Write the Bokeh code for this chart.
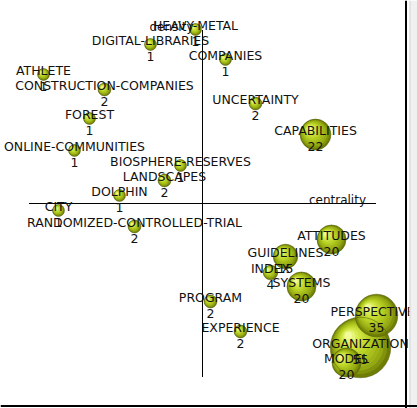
from bokeh.plotting import figure
from bokeh.models import ColumnDataSource, Span, BoxAnnotation
from bokeh.core.properties import value
from bokeh.embed import file_html
from bokeh.resources import INLINE

# ---- data ----
names = ["HEAVY-METAL", "DIGITAL-LIBRARIES", "COMPANIES", "ATHLETE",
         "CONSTRUCTION-COMPANIES", "FOREST", "UNCERTAINTY", "CAPABILITIES",
         "ONLINE-COMMUNITIES", "BIOSPHERE-RESERVES", "LANDSCAPES", "DOLPHIN",
         "CITY", "RANDOMIZED-CONTROLLED-TRIAL", "ATTITUDES", "GUIDELINES",
         "INDEX", "SYSTEMS", "PROGRAM", "EXPERIENCE", "PERSPECTIVES",
         "ORGANIZATION", "MODEL"]
counts = [1, 1, 1, 1, 2, 1, 2, 22, 1, 1, 2, 1, 1, 2, 20, 15, 4, 20, 2, 2, 35, 55, 20]
centrality = [-0.07, -0.52, 0.23, -1.59, -0.98, -1.13, 0.53, 1.13, -1.28, -0.22,
              -0.38, -0.83, -1.44, -0.68, 1.29, 0.83, 0.68, 0.99, 0.08, 0.38,
              1.74, 1.58, 1.44]
density = [1.74, 1.59, 1.44, 1.29, 1.14, 0.85, 1.00, 0.69, 0.53, 0.38,
           0.23, 0.08, -0.07, -0.23, -0.36, -0.53, -0.69, -0.83, -0.98, -1.28,
           -1.12, -1.44, -1.59]
x_title = "centrality"
y_title = "density"

# ---- layout / style ----
W, H = 417, 408
X0, Y1 = -2.02, 2.03
XR = (X0, X0 + W / 100)
YR = (Y1 - H / 100, Y1)
AX = 1.735
FONT = value("DejaVu Sans")
px_x = W / (XR[1] - XR[0])
px_y = H / (YR[1] - YR[0])

p = figure(width=W, height=H, x_range=XR, y_range=YR, min_border=0,
           toolbar_location=None, output_backend="svg",
           x_axis_location=None, y_axis_location=None)
p.grid.visible = False
p.outline_line_color = None
p.background_fill_color = "white"
p.border_fill_color = "white"

# axes crossing in the middle
p.segment(x0=[-AX, 0], y0=[0, -AX], x1=[AX, 0], y1=[0, AX],
          line_color="black", line_width=1)

# shaded spheres: one source, bubble by bubble (largest first), layers inside
def hex2rgb(h):
    return tuple(int(h[i:i + 2], 16) for i in (1, 3, 5))

stops = [(0.0, hex2rgb("#6f7d05")), (0.18, hex2rgb("#93a812")),
         (0.5, hex2rgb("#b5cf22")), (0.8, hex2rgb("#d6ea4c")),
         (1.0, hex2rgb("#f2fa9a"))]

def col(t):
    for (t0, c0), (t1, c1) in zip(stops[:-1], stops[1:]):
        if t <= t1:
            f = (t - t0) / (t1 - t0)
            return "#%02x%02x%02x" % tuple(int(round(a + (b - a) * f)) for a, b in zip(c0, c1))
    return "#%02x%02x%02x" % stops[-1][1]

NL = 12
order = sorted(range(len(names)), key=lambda i: -counts[i])
bx, by, bs, bc = [], [], [], []
for i in order:
    d = 11 + 0.9 * counts[i]
    for k in range(NL):
        t = k / (NL - 1)
        s = d * (1 - 0.88 * t)
        off = d * 0.2 * t
        bx.append(centrality[i] - off / px_x)
        by.append(density[i] + off / px_y)
        bs.append(s)
        bc.append(col(t))
src = ColumnDataSource(dict(x=bx, y=by, size=bs, color=bc))
p.scatter("x", "y", size="size", source=src, fill_color="color",
          line_color="color", line_alpha=0.0, line_width=0)
ring = ColumnDataSource(dict(x=[centrality[i] for i in order],
                             y=[density[i] for i in order],
                             size=[11 + 0.9 * counts[i] for i in order]))
p.scatter("x", "y", size="size", source=ring, fill_alpha=0,
          line_color="#55600a", line_width=0.8, line_alpha=0.7)

# labels
lab = ColumnDataSource(dict(x=centrality, y=[v + 4 / px_y for v in density],
                            t=names))
p.text("x", "y", text="t", source=lab, text_align="center",
       text_baseline="middle", text_font=FONT, text_font_size="12.5px",
       text_color="#111111")
cnt = ColumnDataSource(dict(x=centrality, y=[v - 12 / px_y for v in density],
                            t=[str(c) for c in counts]))
p.text("x", "y", text="t", source=cnt, text_align="center",
       text_baseline="middle", text_font=FONT, text_font_size="12.5px",
       text_color="#111111")

# axis titles
p.text(x=[AX - 10 / px_x], y=[4 / px_y], text=[x_title], text_align="right",
       text_baseline="middle", text_font=FONT, text_font_size="12px",
       text_color="#111111")
p.text(x=[-9 / px_x], y=[AX + 3 / px_y], text=[y_title], text_align="right",
       text_baseline="middle", text_font=FONT, text_font_size="12px",
       text_color="#111111")

# panel border (right / bottom) and side strip
p.add_layout(BoxAnnotation(left=XR[0] + 409 / px_x, fill_color="#f0f0f0",
                           fill_alpha=1, line_color=None))
p.add_layout(Span(location=XR[0] + 409.5 / px_x, dimension="height",
                  line_color="#d4d4d4", line_width=1))
p.add_layout(Span(location=XR[0] + 405.5 / px_x, dimension="height",
                  line_color="black", line_width=2))
p.add_layout(Span(location=YR[1] - 405.5 / px_y, dimension="width",
                  line_color="black", line_width=2))

open("out.html", "w").write(file_html(p, INLINE))
